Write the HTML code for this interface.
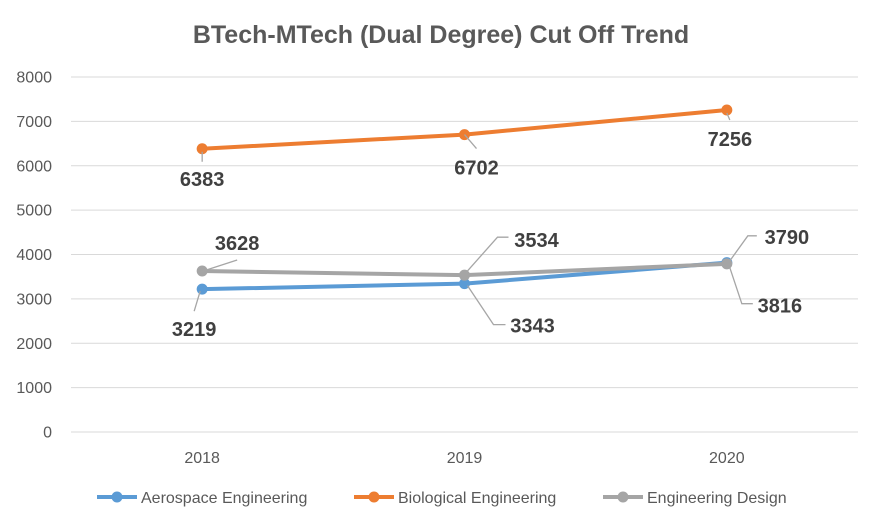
<!DOCTYPE html>
<html><head><meta charset="utf-8"><style>
html,body{margin:0;padding:0;background:#fff;}
svg{display:block;font-family:"Liberation Sans",sans-serif;}
</style></head><body>
<svg id="chart" width="882" height="529">
<text x="441" y="43" text-anchor="middle" font-size="25" font-weight="bold" fill="#595959">BTech-MTech (Dual Degree) Cut Off Trend</text>
<g id="grid"></g><g id="series"></g><g id="labels"></g><g id="legend"></g>
</svg>
<script>
const categories = ["2018","2019","2020"];
const seriesNames = ["Aerospace Engineering","Biological Engineering","Engineering Design"];
const aerospace = [3219,3343,3816];
const biological = [6383,6702,7256];
const design = [3628,3534,3790];
const yTicks = [0,1000,2000,3000,4000,5000,6000,7000,8000];
const colors = ["#5B9BD5","#ED7D31","#A5A5A5"];
const NS="http://www.w3.org/2000/svg";
const L=71,R=858,T=77,B=432,yMax=8000;
const x=i=>L+(R-L)/categories.length*(i+0.5);
const y=v=>B-(B-T)*v/yMax;
function mk(tag,attrs,parent){const e=document.createElementNS(NS,tag);for(const k in attrs)e.setAttribute(k,attrs[k]);parent.appendChild(e);return e;}
const grid=document.getElementById('grid');
yTicks.forEach(t=>{
 const ln=mk('line',{x1:L,x2:R,y1:y(t),y2:y(t),stroke:'#d9d9d9','stroke-width':1},grid);
 
 
 const tx=mk('text',{x:52,y:y(t)+5.5,'text-anchor':'end','font-size':16,fill:'#595959'},grid);
 tx.textContent=t;
 
 
});
categories.forEach((c,i)=>{
 const tx=mk('text',{x:x(i),y:463,'text-anchor':'middle','font-size':16,fill:'#595959'},grid);
 tx.textContent=c;
 
 
});
const data=[aerospace,biological,design];
const order=[0,1,2];
const sg=document.getElementById('series');
[0,1,2].forEach(s=>{
 const vals=data[s];
 const p=mk('polyline',{points:vals.map((v,i)=>x(i)+','+y(v)).join(' '),fill:'none',stroke:colors[s],'stroke-width':4,'stroke-linejoin':'round'},sg);
 
 
 vals.forEach((v,i)=>{
  const c=mk('circle',{cx:x(i),cy:y(v),r:5.5,fill:colors[s]},sg);
  
  
 });
});
const place={
 '0-0':{dx:-8,dy:40,lead:[[-2,2],[-8,22]]},
 '0-1':{dx:68,dy:42,lead:[[3,2],[29,41],[41,41]]},
 '0-2':{dx:53,dy:43,lead:[[3,5],[15,41],[26,41]]},
 '1-0':{dx:0,dy:30,lead:[[0,3],[0,13]]},
 '1-1':{dx:12,dy:33,lead:[[0,0],[12,14]]},
 '1-2':{dx:3,dy:29,lead:[[0,3],[3,10]]},
 '2-0':{dx:35,dy:-28,lead:[[-2,1],[35,-11]]},
 '2-1':{dx:72,dy:-35,lead:[[1,-2],[33,-38],[44,-38]]},
 '2-2':{dx:60,dy:-27,lead:[[3,-3],[21,-28],[30,-28]]}
};
const lg=document.getElementById('labels');
order.forEach(s=>data[s].forEach((v,i)=>{
 const pl=place[s+'-'+i],px=x(i),py=y(v);
 const ld=mk('polyline',{points:pl.lead.map(o=>(px+o[0])+','+(py+o[1])).join(' '),fill:'none',stroke:'#a6a6a6','stroke-width':1.3},lg);
 
 
 const t=mk('text',{x:px+pl.dx,y:py+pl.dy+7,'text-anchor':'middle','font-size':20,'font-weight':'bold',fill:'#404040'},lg);
 t.textContent=v;
 
 
}));
const lgd=document.getElementById('legend');
const lx=[97,354,603];
seriesNames.forEach((n,s)=>{
 const g=mk('g',{},lgd);
 
 
 mk('line',{x1:lx[s],x2:lx[s]+40,y1:497,y2:497,stroke:colors[s],'stroke-width':4},g);
 mk('circle',{cx:lx[s]+20,cy:497,r:5.5,fill:colors[s]},g);
 const t=mk('text',{x:lx[s]+44,y:503,'font-size':16,fill:'#595959'},g);
 t.textContent=n;
});
</script>
</body></html>
